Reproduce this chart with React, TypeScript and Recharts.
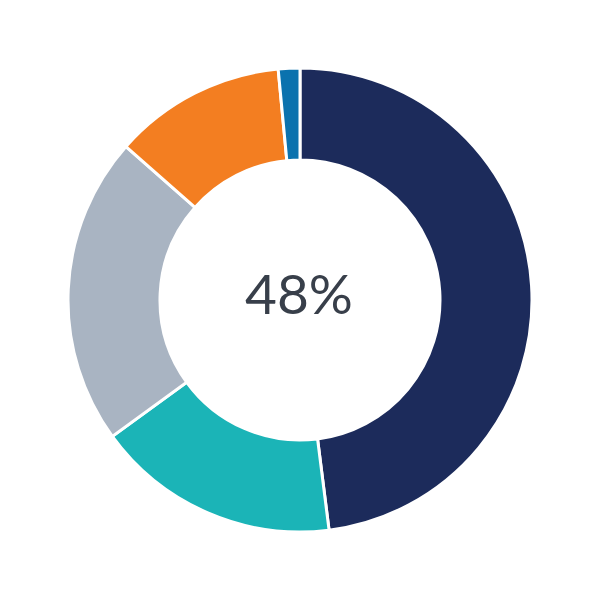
import React from "react";
import { PieChart, Pie, Cell } from "recharts";

const categories = ["Navy", "Teal", "Gray", "Orange", "Blue"];
const values = [48, 17, 21.5, 12, 1.5];
const colors = ["#1c2b5b", "#1bb4b7", "#a9b4c2", "#f37e21", "#0b72ae"];
const centerLabel = "48%";

const data = categories.map((name, i) => ({ name, value: values[i] }));

export default function App() {
  return (
    <div style={{ position: "absolute", left: 0, top: 0, width: 600, height: 600, background: "#fff" }}>
      <PieChart width={600} height={600}>
        <Pie
          data={data}
          dataKey="value"
          nameKey="name"
          cx={295}
          cy={295}
          innerRadius={140}
          outerRadius={232}
          startAngle={90}
          endAngle={-270}
          stroke="#ffffff"
          strokeWidth={3}
          isAnimationActive={false}
        >
          {data.map((d, i) => (
            <Cell key={d.name} fill={colors[i]} />
          ))}
        </Pie>
        <text
          x={299}
          y={293}
          textAnchor="middle"
          dominantBaseline="central"
          fontFamily="Lato, 'Open Sans', sans-serif"
          fontWeight={400}
          fontSize={55}
          fill="#383f4a"
        >
          {centerLabel}
        </text>
      </PieChart>
    </div>
  );
}
